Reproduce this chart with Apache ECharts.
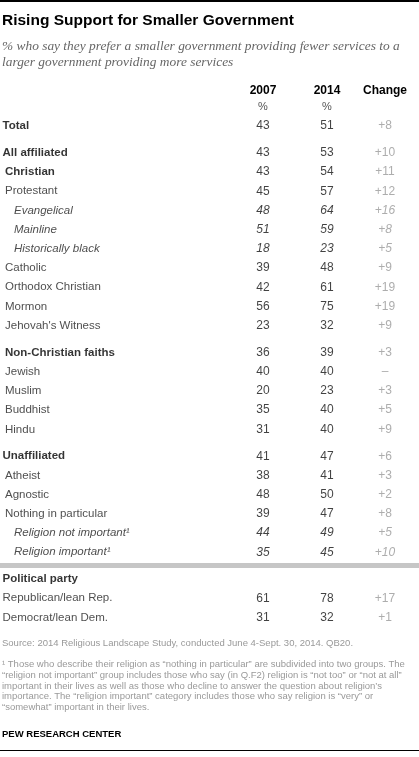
<!DOCTYPE html>
<html>
<head>
<meta charset="utf-8">
<script src="https://cdn.jsdelivr.net/npm/echarts@6/dist/echarts.min.js"></script>
<style>
  html, body { margin: 0; padding: 0; background: #fff; }
  #chart { width: 419px; height: 757px; }
</style>
</head>
<body>
<div id="chart"></div>
<script>
// table rows, top to bottom
const rowLabels = [
	'Total',
	'All affiliated', 'Christian', 'Protestant', 'Evangelical', 'Mainline', 'Historically black',
	'Catholic', 'Orthodox Christian', 'Mormon', "Jehovah's Witness",
	'Non-Christian faiths', 'Jewish', 'Muslim', 'Buddhist', 'Hindu',
	'Unaffiliated', 'Atheist', 'Agnostic', 'Nothing in particular',
	'Religion not important\u00b9', 'Religion important\u00b9',
	'Political party', 'Republican/lean Rep.', 'Democrat/lean Dem.'
];
// kind of row: head = bold at left edge, sub = bold indented, item, subitem = italic
const rowKinds = [
	'head',
	'head', 'sub', 'item', 'subitem', 'subitem', 'subitem',
	'item', 'item', 'item', 'item',
	'sub', 'item', 'item', 'item', 'item',
	'head', 'item', 'item', 'item',
	'subitem', 'subitem',
	'head', 'party', 'party'
];
const values2007 = [43, 43, 43, 45, 48, 51, 18, 39, 42, 56, 23, 36, 40, 20, 35, 31, 41, 38, 48, 39, 44, 35, null, 61, 31];
const values2014 = [51, 53, 54, 57, 64, 59, 23, 48, 61, 75, 32, 39, 40, 23, 40, 40, 47, 41, 50, 47, 49, 45, null, 78, 32];
const changes = ['+8', '+10', '+11', '+12', '+16', '+8', '+5', '+9', '+19', '+19', '+9', '+3', '\u2013', '+3', '+5', '+9', '+6', '+3', '+2', '+8', '+5', '+10', null, '+17', '+1'];
const columnHeads = ['2007', '2014', 'Change'];
// a small gap follows these rows; the last one gets the grey divider
const groupEnds = [0, 10, 15, 21];

// layout
const ROW_H = 19.2;
const GAP = 0.4;
const colX = [263, 327, 385];
const indentX = { head: 2, sub: 4.5, item: 4.5, subitem: 13.5, party: 2 };
const FONT = '"Liberation Sans", Arial, sans-serif';

// row position in row units, counting the group gaps above it
const rowPos = rowLabels.map((_, i) => i + GAP * groupEnds.filter(g => g < i).length);
const lastPos = rowPos[rowPos.length - 1];
const dividerPos = (rowPos[21] + rowPos[22]) / 2;
const firstRowY = 126;

function labelStyle(kind) {
	if (kind === 'head' || kind === 'sub') return { fontWeight: 'bold', color: '#000' };
	if (kind === 'subitem') return { fontStyle: 'italic', color: '#222' };
	return { color: '#222' };
}

const chart = echarts.init(document.getElementById('chart'), null, { renderer: 'canvas' });

function numberSeries(values, col, color) {
	return {
		type: 'scatter',
		symbolSize: 1,
		itemStyle: { color: 'transparent' },
		silent: true,
		data: values.map((v, i) => v === null ? null : {
			value: [colX[col], rowPos[i], v],
			label: { fontStyle: rowKinds[i] === 'subitem' ? 'italic' : 'normal' }
		}).filter(d => d !== null),
		label: {
			show: true,
			position: 'inside',
			align: 'center',
			verticalAlign: 'middle',
			fontFamily: FONT,
			fontSize: 12,
			color: color,
			formatter: p => p.value[2]
		}
	};
}

var option = {
	animation: false,
	grid: {
		left: 0, right: 0,
		top: firstRowY - 0.5 * ROW_H,
		height: (lastPos + 1) * ROW_H
	},
	xAxis: { type: 'value', min: 0, max: 419, show: false },
	yAxis: { type: 'value', inverse: true, min: -0.5, max: lastPos + 0.5, show: false },
	series: [
		{
			type: 'scatter',
			symbolSize: 1,
			itemStyle: { color: 'transparent' },
			silent: true,
			data: rowLabels.map((name, i) => ({
				value: [indentX[rowKinds[i]], rowPos[i]],
				name: name,
				label: labelStyle(rowKinds[i])
			})),
			label: {
				show: true,
				position: 'right',
				distance: 0,
				fontFamily: FONT,
				fontSize: 11.5,
				formatter: p => p.name
			},
			markLine: {
				silent: true,
				symbol: 'none',
				label: { show: false },
				lineStyle: { color: '#c6c6c6', width: 5, type: 'solid' },
				data: [{ yAxis: dividerPos }]
			}
		},
		numberSeries(values2007, 0, '#111'),
		numberSeries(values2014, 1, '#111'),
		{
			type: 'scatter',
			symbolSize: 1,
			itemStyle: { color: 'transparent' },
			silent: true,
			data: changes.map((c, i) => c === null ? null : {
				value: [colX[2], rowPos[i]],
				name: c,
				label: { fontStyle: rowKinds[i] === 'subitem' ? 'italic' : 'normal' }
			}).filter(d => d !== null),
			label: {
				show: true,
				position: 'inside',
				align: 'center',
				verticalAlign: 'middle',
				fontFamily: FONT,
				fontSize: 12,
				color: '#999',
				formatter: p => p.name
			}
		}
	],
	graphic: [
		{ type: 'rect', left: 0, top: 0, shape: { width: 419, height: 2 }, style: { fill: '#000' } },
		{
			type: 'text', left: 2, top: 13,
			style: { text: 'Rising Support for Smaller Government', font: 'bold 15.5px ' + FONT, fill: '#000' }
		},
		{
			type: 'text', left: 2, top: 38,
			style: {
				text: '% who say they prefer a smaller government providing fewer services to a\nlarger government providing more services',
				font: 'italic 13.4px "Liberation Serif", Georgia, serif', fill: '#666', lineHeight: 16
			}
		},
		{
			type: 'group',
			children: columnHeads.map((h, i) => ({
				type: 'text', x: colX[i], y: 91,
				style: { text: h, font: 'bold 12px ' + FONT, fill: '#000', align: 'center', verticalAlign: 'middle' }
			})).concat([0, 1].map(i => ({
				type: 'text', x: colX[i], y: 107,
				style: { text: '%', font: '11px ' + FONT, fill: '#555', align: 'center', verticalAlign: 'middle' }
			})))
		},
		{
			type: 'text', left: 2, top: 638,
			style: {
				text: 'Source: 2014 Religious Landscape Study, conducted June 4-Sept. 30, 2014. QB20.',
				font: '9.5px ' + FONT, fill: '#999'
			}
		},
		{
			type: 'text', left: 2, top: 659,
			style: {
				text: '\u00b9 Those who describe their religion as \u201cnothing in particular\u201d are subdivided into two groups. The\n' +
					'\u201creligion not important\u201d group includes those who say (in Q.F2) religion is \u201cnot too\u201d or \u201cnot at all\u201d\n' +
					'important in their lives as well as those who decline to answer the question about religion\u2019s\n' +
					'importance. The \u201creligion important\u201d category includes those who say religion is \u201cvery\u201d or\n' +
					'\u201csomewhat\u201d important in their lives.',
				font: '9.5px ' + FONT, fill: '#999', lineHeight: 10.8
			}
		},
		{
			type: 'text', left: 2, top: 729,
			style: { text: 'PEW RESEARCH CENTER', font: 'bold 9.5px ' + FONT, fill: '#000' }
		},
		{ type: 'rect', left: 0, top: 750, shape: { width: 419, height: 1 }, style: { fill: '#000' } }
	]
};

chart.setOption(option);
</script>
</body>
</html>
